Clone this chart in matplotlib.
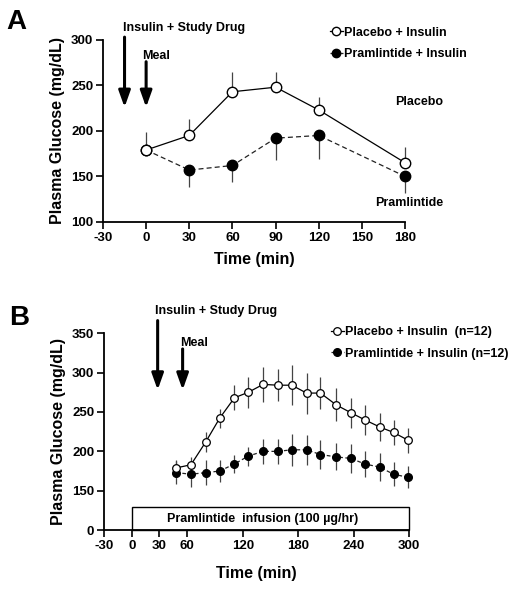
import numpy as np
import matplotlib
matplotlib.use('Agg')
import matplotlib.pyplot as plt
from matplotlib.patches import Rectangle

plt.rcParams['font.family'] = ['Liberation Sans', 'DejaVu Sans']
plt.rcParams['font.weight'] = 'bold'
plt.rcParams['axes.unicode_minus'] = False

# panel A data
a_time = [0, 30, 60, 90, 120, 180]
a_placebo = [179, 195, 243, 248, 223, 165]
a_placebo_err = [20, 18, 22, 17, 14, 17]
a_pram = [179, 157, 162, 192, 195, 150]
a_pram_err = [0, 19, 18, 24, 26, 18]
a_xticks = [-30, 0, 30, 60, 90, 120, 150, 180]
a_yticks = [100, 150, 200, 250, 300]

# panel B data (y axis is broken: tick at 100 is labelled 0)
b_time = [48, 64, 80, 95, 111, 126, 142, 158, 173, 189, 204, 221, 237, 252, 268, 283, 299]
b_placebo = [179, 183, 212, 242, 268, 275, 285, 284, 284, 274, 274, 259, 249, 240, 231, 224, 214]
b_placebo_err = [10, 10, 13, 12, 16, 20, 22, 20, 25, 26, 20, 21, 19, 19, 18, 16, 16]
b_pram = [173, 171, 173, 175, 184, 194, 200, 200, 202, 202, 196, 193, 191, 184, 180, 171, 167]
b_pram_err = [15, 16, 16, 14, 12, 12, 16, 16, 20, 19, 18, 17, 18, 16, 18, 15, 14]
b_xticks = [-30, 0, 30, 60, 120, 180, 240, 300]
b_yticks = [100, 150, 200, 250, 300, 350]
b_yticklabels = ['0', '150', '200', '250', '300', '350']

fig = plt.figure(figsize=(5.2, 5.95), dpi=100)
axA = fig.add_axes([0.198, 0.627, 0.581, 0.306])
axB = fig.add_axes([0.2, 0.109, 0.587, 0.331])


def style_axes(ax, xpad):
    for s in ['top', 'right']:
        ax.spines[s].set_visible(False)
    for s in ['left', 'bottom']:
        ax.spines[s].set_linewidth(1.3)
    ax.tick_params(direction='out', length=5, width=1.2, labelsize=9.5, pad=2)
    for lab in ax.get_xticklabels() + ax.get_yticklabels():
        lab.set_fontweight('bold')
    ax.set_xlabel('Time (min)', fontsize=11.5, fontweight='bold', labelpad=xpad)
    ax.set_ylabel('Plasma Glucose (mg/dL)', fontsize=11.5, fontweight='bold', labelpad=4)


def arrow(ax, x, y0, y1):
    ax.annotate('', xy=(x, y1), xytext=(x, y0),
                arrowprops=dict(arrowstyle='-|>,head_length=0.7,head_width=0.25', lw=2.2,
                                color='black', mutation_scale=14, shrinkA=0, shrinkB=0),
                annotation_clip=False)


# ---------- panel A ----------
a_pe = np.array(a_placebo_err)
a_re = np.array(a_pram_err)
axA.errorbar(a_time, a_pram, yerr=[a_re, np.zeros_like(a_re)], fmt='none',
             ecolor='#444444', elinewidth=0.9, capsize=0, clip_on=False, zorder=2)
axA.errorbar(a_time, a_placebo, yerr=[np.zeros_like(a_pe), a_pe], fmt='none',
             ecolor='#444444', elinewidth=0.9, capsize=0, clip_on=False, zorder=2)
axA.plot(a_time, a_pram, ls=(0, (4, 2.5)), color='#222222', lw=0.9, marker='o', ms=7.5,
         mfc='black', mec='black', clip_on=False, zorder=3, label='Pramlintide + Insulin')
axA.plot(a_time, a_placebo, ls='-', color='black', lw=0.9, marker='o', ms=7.5,
         mfc='white', mec='black', mew=1.0, clip_on=False, zorder=4, label='Placebo + Insulin')
axA.set_xlim(-30, 180)
axA.set_ylim(100, 300)
axA.set_xticks(a_xticks)
axA.set_yticks(a_yticks)
style_axes(axA, 6)

h, l = axA.get_legend_handles_labels()
axA.legend(h[::-1], l[::-1], loc='upper left', bbox_to_anchor=(0.735, 1.1), frameon=False,
           handlelength=1.0, handletextpad=0.1, labelspacing=0.75, borderaxespad=0,
           markerscale=0.8, prop={'weight': 'bold', 'size': 9})

arrow(axA, -15, 303, 226)
arrow(axA, 0, 276, 226)
axA.text(-16, 313, 'Insulin + Study Drug', fontsize=9, fontweight='bold', va='center', ha='left')
axA.text(-3, 282, 'Meal', fontsize=9, fontweight='bold', va='center', ha='left')
axA.text(190, 232, 'Placebo', fontsize=9, fontweight='bold', va='center', ha='center')
axA.text(183, 121, 'Pramlintide', fontsize=9, fontweight='bold', va='center', ha='center')
fig.text(0.012, 0.963, 'A', fontsize=20, fontweight='bold', va='center', ha='left')

# ---------- panel B ----------
axB.add_patch(Rectangle((0, 100), 300, 29, facecolor='white', edgecolor='black', lw=1.0,
                        clip_on=False, zorder=1))
axB.text(141, 114, 'Pramlintide  infusion (100 µg/hr)', fontsize=9, fontweight='bold',
         va='center', ha='center')
axB.errorbar(b_time, b_pram, yerr=b_pram_err, fmt='none', ecolor='#444444',
             elinewidth=0.9, capsize=0, clip_on=False, zorder=2)
axB.errorbar(b_time, b_placebo, yerr=b_placebo_err, fmt='none', ecolor='#444444',
             elinewidth=0.9, capsize=0, clip_on=False, zorder=2)
axB.plot(b_time, b_pram, ls=(0, (3, 2)), color='#222222', lw=0.9, marker='o', ms=5.5,
         mfc='black', mec='black', clip_on=False, zorder=3, label='Pramlintide + Insulin (n=12)')
axB.plot(b_time, b_placebo, ls='-', color='black', lw=0.9, marker='o', ms=5.5,
         mfc='white', mec='black', mew=0.9, clip_on=False, zorder=4, label='Placebo + Insulin  (n=12)')
axB.set_xlim(-30, 300)
axB.set_ylim(100, 350)
axB.set_xticks(b_xticks)
axB.set_yticks(b_yticks)
axB.set_yticklabels(b_yticklabels)
style_axes(axB, 10)

h, l = axB.get_legend_handles_labels()
axB.legend(h[::-1], l[::-1], loc='upper left', bbox_to_anchor=(0.728, 1.06), frameon=False,
           handlelength=1.0, handletextpad=0.1, labelspacing=0.75, borderaxespad=0,
           prop={'weight': 'bold', 'size': 9})

arrow(axB, 28, 366, 278)
arrow(axB, 55, 330, 278)
axB.text(25, 378, 'Insulin + Study Drug', fontsize=9, fontweight='bold', va='center', ha='left')
axB.text(52, 338, 'Meal', fontsize=9, fontweight='bold', va='center', ha='left')
fig.text(0.018, 0.465, 'B', fontsize=20, fontweight='bold', va='center', ha='left')

fig.savefig('out.png', dpi=100, facecolor='white')
